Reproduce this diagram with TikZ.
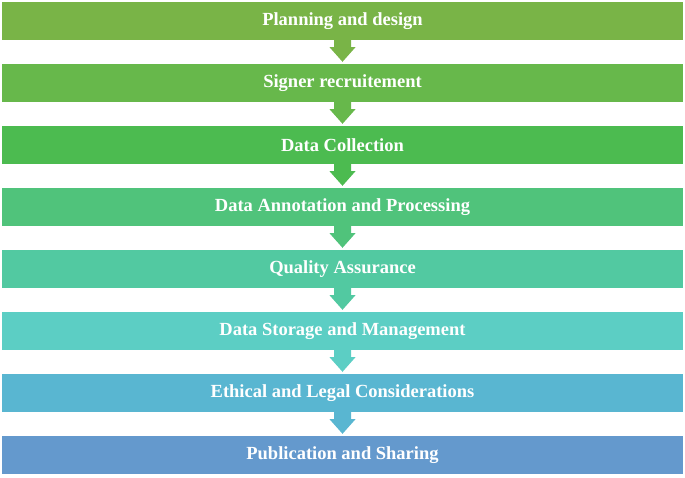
\documentclass[tikz,border=0pt]{standalone}
\usetikzlibrary{calc}
\usepackage{fontspec}
\setmainfont{Liberation Serif}
\begin{document}
\begin{tikzpicture}[x=1pt,y=-1pt,
  stage/.style={minimum width=681pt,minimum height=38pt,inner sep=0pt,text=white,font=\bfseries\fontsize{18.5}{20}\selectfont}]
\useasboundingbox (0,0) rectangle (685,477);
\definecolor{c1}{HTML}{79B447}\definecolor{c2}{HTML}{67B84B}\definecolor{c3}{HTML}{4CBB50}
\definecolor{c4}{HTML}{50C37B}\definecolor{c5}{HTML}{52C9A1}\definecolor{c6}{HTML}{5CCEC4}
\definecolor{c7}{HTML}{59B6D1}\definecolor{c8}{HTML}{6499CD}
\foreach \i/\t in {1/Planning and design,2/Signer recruitement,3/Data Collection,4/Data Annotation and Processing,5/Quality Assurance,6/Data Storage and Management,7/Ethical and Legal Considerations,8/Publication and Sharing}{
  \node[stage,fill=c\i] (b\i) at (342.5,{21+62*(\i-1)}) {\t};
}
\foreach \i [evaluate=\i as \j using int(\i+1)] in {1,...,7}{
  \fill[c\i] ($(b\i.south)+(-8.5,0)$) -- ++(0,7) -- ++(-4.5,0) -- ($(b\j.north)+(0,-2)$) -- ($(b\i.south)+(13,7)$) -- ++(-4.5,0) -- ++(0,-7) -- cycle;
}
\end{tikzpicture}
\end{document}
